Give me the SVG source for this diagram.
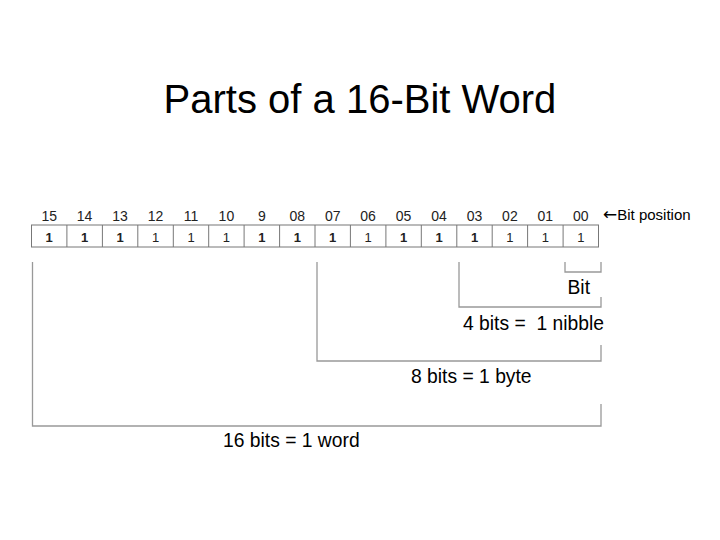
<svg xmlns="http://www.w3.org/2000/svg" width="720" height="540" viewBox="0 0 720 540">
<style>
.t{font-family:"Liberation Sans",Arial,sans-serif;fill:#000}
.title{font-size:40px}
.pos{font-size:14px;text-anchor:middle;fill:#222}
.val{font-size:13px;text-anchor:middle;fill:#222}
.b{font-weight:bold}
.lbl{font-size:19.3px;white-space:pre}
.cell{fill:#fff;stroke:#777;stroke-width:1}
.br{fill:none;stroke:#999;stroke-width:1.3}
</style>
<rect width="720" height="540" fill="#fff"/>
<text class="t title" x="360" y="113" text-anchor="middle">Parts of a 16-Bit Word</text>
<g id="register">
<rect class="cell" x="31.5" y="225" width="567" height="22"/>
<g stroke="#777" stroke-width="1">
<line x1="66.9" y1="225" x2="66.9" y2="247"/>
<line x1="102.4" y1="225" x2="102.4" y2="247"/>
<line x1="137.8" y1="225" x2="137.8" y2="247"/>
<line x1="173.3" y1="225" x2="173.3" y2="247"/>
<line x1="208.7" y1="225" x2="208.7" y2="247"/>
<line x1="244.1" y1="225" x2="244.1" y2="247"/>
<line x1="279.6" y1="225" x2="279.6" y2="247"/>
<line x1="315" y1="225" x2="315" y2="247"/>
<line x1="350.4" y1="225" x2="350.4" y2="247"/>
<line x1="385.9" y1="225" x2="385.9" y2="247"/>
<line x1="421.3" y1="225" x2="421.3" y2="247"/>
<line x1="456.8" y1="225" x2="456.8" y2="247"/>
<line x1="492.2" y1="225" x2="492.2" y2="247"/>
<line x1="527.6" y1="225" x2="527.6" y2="247"/>
<line x1="563.1" y1="225" x2="563.1" y2="247"/>
</g>
<g>
<text class="t pos" x="49.2" y="221">15</text>
<text class="t pos" x="84.6" y="221">14</text>
<text class="t pos" x="120.1" y="221">13</text>
<text class="t pos" x="155.5" y="221">12</text>
<text class="t pos" x="191" y="221">11</text>
<text class="t pos" x="226.4" y="221">10</text>
<text class="t pos" x="261.8" y="221">9</text>
<text class="t pos" x="297.3" y="221">08</text>
<text class="t pos" x="332.7" y="221">07</text>
<text class="t pos" x="368.1" y="221">06</text>
<text class="t pos" x="403.6" y="221">05</text>
<text class="t pos" x="439" y="221">04</text>
<text class="t pos" x="474.5" y="221">03</text>
<text class="t pos" x="509.9" y="221">02</text>
<text class="t pos" x="545.3" y="221">01</text>
<text class="t pos" x="580.8" y="221">00</text>
</g>
<text class="t val b" x="49.2" y="241.5">1</text>
<text class="t val b" x="84.6" y="241.5">1</text>
<text class="t val b" x="120.1" y="241.5">1</text>
<text class="t val" x="155.5" y="241.5">1</text>
<text class="t val" x="191" y="241.5">1</text>
<text class="t val" x="226.4" y="241.5">1</text>
<text class="t val b" x="261.8" y="241.5">1</text>
<text class="t val b" x="297.3" y="241.5">1</text>
<text class="t val b" x="332.7" y="241.5">1</text>
<text class="t val" x="368.1" y="241.5">1</text>
<text class="t val b" x="403.6" y="241.5">1</text>
<text class="t val b" x="439" y="241.5">1</text>
<text class="t val b" x="474.5" y="241.5">1</text>
<text class="t val" x="509.9" y="241.5">1</text>
<text class="t val" x="545.3" y="241.5">1</text>
<text class="t val" x="580.8" y="241.5">1</text>
<text class="t" x="603" y="220" font-size="15" fill="#222"><tspan font-family="'DejaVu Sans',sans-serif" font-size="17">←</tspan>Bit position</text>
</g>
<g id="connectors">
<path class="br" d="M565 262 V272 H601 V262"/>
<path class="br" d="M459 262 V307 H601 V297"/>
<path class="br" d="M317 262 V361 H601 V345"/>
<path class="br" d="M32.5 262 V426 H601 V404"/>
</g>
<g id="bit"><text class="t lbl" x="590" y="294" text-anchor="end">Bit</text></g>
<g id="nibble"><text class="t lbl" x="463" y="330">4 bits =  1 nibble</text></g>
<g id="byte"><text class="t lbl" x="411" y="383">8 bits = 1 byte</text></g>
<g id="word"><text class="t lbl" x="223" y="447">16 bits = 1 word</text></g>
</svg>
